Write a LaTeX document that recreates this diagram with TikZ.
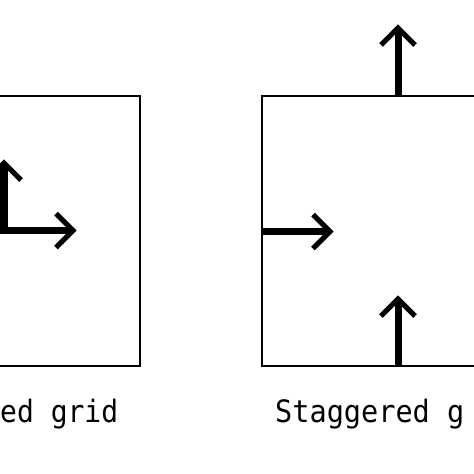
\documentclass[tikz,border=0pt]{standalone}
\usepackage{fontspec}
\newfontfamily\labelfont{DejaVu Sans Mono}
\begin{document}
\begin{tikzpicture}[x=1pt,y=-1pt,
  boxline/.style={draw=black,line width=2pt},
  shaft/.style={draw=black,line width=7pt},
  barb/.style={draw=black,line width=5pt,line join=miter,line cap=butt},
  caption/.style={font=\labelfont\fontsize{28}{30}\selectfont,inner sep=0pt,anchor=base west}]
\useasboundingbox (0,0) rectangle (474,474);
\fill[white] (0,0) rectangle (474,474);
% boxes
\draw[boxline] (-10,95.5) rectangle (140,366);
\draw[boxline] (262,95.5) rectangle (490,366);
% left arrows
\coordinate (lo) at (0,230.5);
\coordinate (lc) at (4,234);
\coordinate (lh) at (73,230.5);
\coordinate (lv) at (4,163);
\draw[shaft] (lo) -- (lh);
\draw[shaft] (lc) -- (lv);
\draw[barb] ([shift={(-17,-17)}]lh) -- (lh) -- ([shift={(-17,17)}]lh);
\draw[barb] ([shift={(-17,17)}]lv) -- (lv) -- ([shift={(17,17)}]lv);
% right arrows
\coordinate (ro) at (262,231.5);
\coordinate (rh) at (330,231.5);
\coordinate (tb) at (398,96);
\coordinate (tt) at (398,28);
\coordinate (bb) at (398,366);
\coordinate (bt) at (398,299);
\draw[shaft] (ro) -- (rh);
\draw[barb] ([shift={(-17,-17)}]rh) -- (rh) -- ([shift={(-17,17)}]rh);
\draw[shaft] (tb) -- (tt);
\draw[barb] ([shift={(-17,17)}]tt) -- (tt) -- ([shift={(17,17)}]tt);
\draw[shaft] (bb) -- (bt);
\draw[barb] ([shift={(-17,17)}]bt) -- (bt) -- ([shift={(17,17)}]bt);
% captions
\node[caption] (lcap) at (0,422) {\scalebox{1}[1.1]{ed grid}};
\node[caption] (rcap) at (275,422) {\scalebox{1.02}[1.1]{Staggered g}};
\end{tikzpicture}
\end{document}
